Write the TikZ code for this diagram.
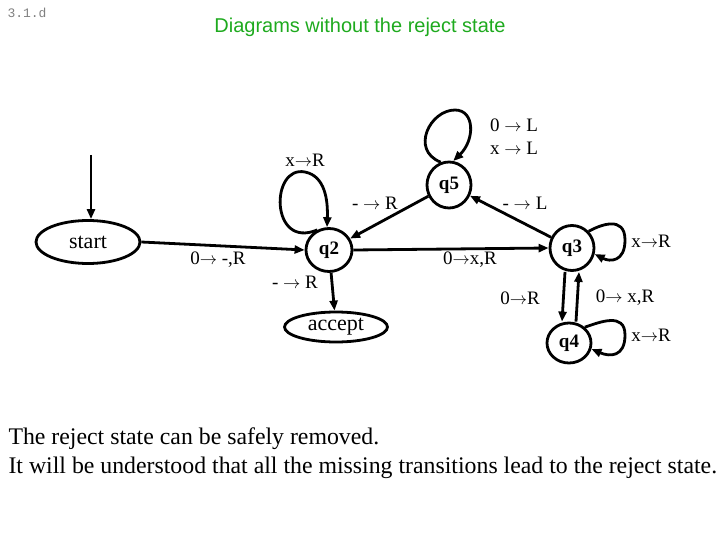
\documentclass[tikz,border=0pt]{standalone}
\usepackage{fontspec}
\setmainfont{Liberation Serif}
\newfontfamily\hv{Liberation Sans}
\newfontfamily\mono{Liberation Mono}
\usetikzlibrary{arrows.meta,shapes.geometric}
\definecolor{ttl}{RGB}{30,170,30}
\begin{document}
\begin{tikzpicture}[x=1pt,y=-1pt,
 st/.style={draw,ellipse,line width=2.8pt,inner sep=0pt},
 ed/.style={line width=2.8pt,-{Triangle[length=10pt,width=8pt]}},
 lb/.style={font=\fontsize{19}{19}\selectfont,inner sep=0pt}]
\useasboundingbox (0,0) rectangle (720,540);
\node[anchor=west,text=gray,font=\mono\fontsize{13}{13}\selectfont] (num) at (4,13) {3.1.d};
\node[text=ttl,font=\hv\fontsize{20}{20}\selectfont] (title) at (360,27) {Diagrams without the reject state};
\node[st,minimum width=104pt,minimum height=43pt,font=\fontsize{22}{22}\selectfont] (s) at (88,242) {start};
\node[st,minimum width=46pt,minimum height=43pt,font=\bfseries\fontsize{19}{19}\selectfont] (q2) at (329,250) {q2};
\node[st,minimum width=44pt,minimum height=46pt,font=\bfseries\fontsize{19}{19}\selectfont] (q5) at (449,185) {q5};
\node[st,minimum width=44pt,minimum height=45pt,font=\bfseries\fontsize{19}{19}\selectfont] (q3) at (572,248) {q3};
\node[st,minimum width=44pt,minimum height=40pt,font=\bfseries\fontsize{19}{19}\selectfont] (q4) at (569,343) {q4};
\node[st,minimum width=103pt,minimum height=30pt,font=\fontsize{22}{22}\selectfont] (acc) at (336,327) {accept};
\coordinate (init) at (91,155);
\draw[ed] (init) -- (s.north -| init);
\draw[ed] (s.east) -- (q2.west);
\draw[ed] (q2.east) -- (q3.west);
\draw[ed] (q5) -- (q2);
\draw[ed] (q3) -- (q5);
\draw[ed] (q2) -- (acc);
\draw[ed] ([xshift=-7pt]q3.south) -- ([xshift=-7pt]q4.north);
\draw[ed] ([xshift=7pt]q4.north) -- ([xshift=7pt]q3.south);
\draw[ed] (q2.120) .. controls (270,250) and (270,165) .. (305,172) .. controls (325,176) and (328,200) .. (q2.95);
\draw[ed] (q5.110) .. controls (410,150) and (430,110) .. (455,110) .. controls (475,110) and (475,140) .. (q5.80);
\draw[ed] (q3.45) .. controls (600,225) and (625,215) .. (625,240) .. controls (625,262) and (610,262) .. (q3.-15);
\draw[ed] (q4.45) .. controls (600,322) and (625,312) .. (625,335) .. controls (625,357) and (610,357) .. (q4.-15);
\node[lb] (l1) at (305,160) {x$\rightarrow$R};
\node[lb] (l2) at (375,203) {- $\rightarrow$ R};
\node[lb] (l3) at (514,125) {0 $\rightarrow$ L};
\node[lb] (l4) at (514,148) {x $\rightarrow$ L};
\node[lb] (l5) at (525,203) {- $\rightarrow$ L};
\node[lb] (l6) at (218,260) {0$\rightarrow$ -,R};
\node[lb] (l7) at (470,260) {0$\rightarrow$x,R};
\node[lb] (l8) at (295,282) {- $\rightarrow$ R};
\node[lb] (l9) at (651,241) {x$\rightarrow$R};
\node[lb] (l10) at (520,298) {0$\rightarrow$R};
\node[lb] (l11) at (625,298) {0$\rightarrow$ x,R};
\node[lb] (l12) at (651,335) {x$\rightarrow$R};
\node[anchor=west,font=\fontsize{23.8}{29}\selectfont,align=left] (txt) at (5,453) {The reject state can be safely removed.\\It will be understood that all the missing transitions lead to the reject state.};
\end{tikzpicture}
\end{document}
